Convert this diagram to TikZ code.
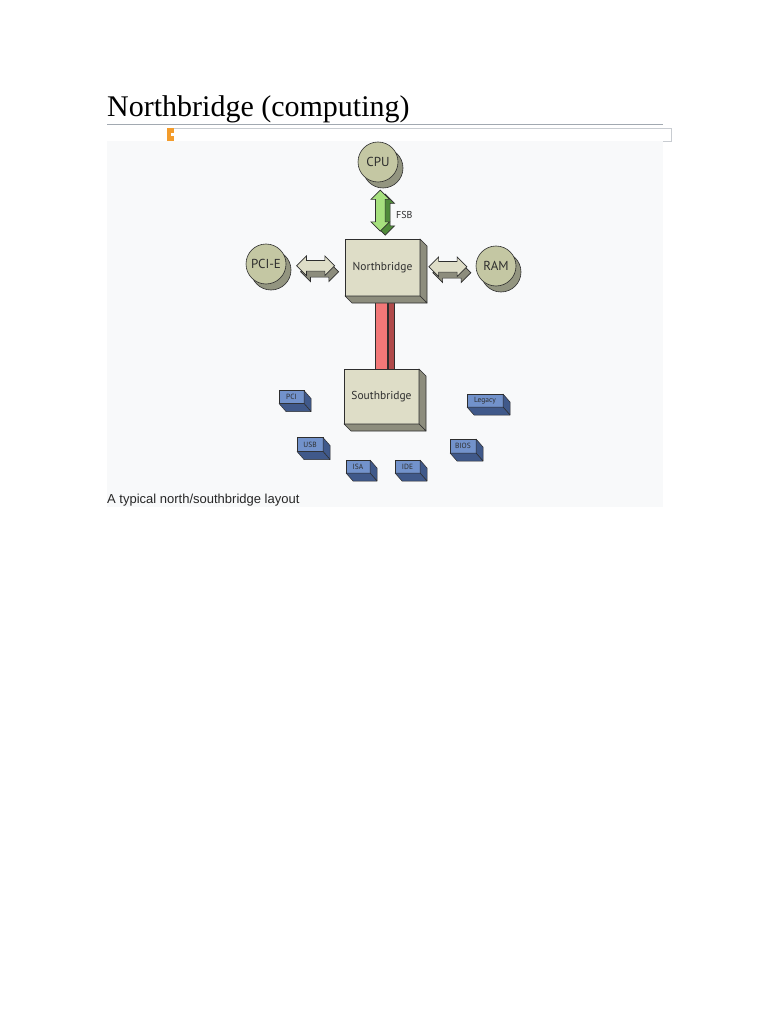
\documentclass[tikz,border=0pt]{standalone}
\usepackage{fontspec}
\setmainfont{Liberation Serif}
\newfontfamily\capfont{Liberation Sans}
\newfontfamily\diagfont{PT Sans}
\usetikzlibrary{calc,shapes.arrows}

\definecolor{pagegrey}{HTML}{F8F9FA}
\definecolor{rulegrey}{HTML}{A2A9B1}
\definecolor{boxgrey}{HTML}{C8CCD1}
\definecolor{tagorange}{HTML}{F39C2C}
\definecolor{chipface}{HTML}{DEDDC7}
\definecolor{chipside}{HTML}{8D8D7D}
\definecolor{discface}{HTML}{C4C7A3}
\definecolor{discside}{HTML}{939580}
\definecolor{busface}{HTML}{A6E07E}
\definecolor{busside}{HTML}{4F8A3A}
\definecolor{linkface}{HTML}{F27878}
\definecolor{linkside}{HTML}{B04A4A}
\definecolor{portface}{HTML}{7292CB}
\definecolor{portside}{HTML}{40598A}
\definecolor{inkgrey}{HTML}{2E2E2E}

\tikzset{
  chip/.style = {draw=inkgrey, fill=chipface, line width=0.6pt, inner sep=0pt, outer sep=0pt,
    minimum width=75pt, text=inkgrey, font=\diagfont\fontsize{11.5}{13}\selectfont},
  sides/.style = {draw=inkgrey, line width=0.6pt, line join=round},
  disc/.style = {circle, draw=inkgrey, fill=discface, line width=0.6pt, inner sep=0pt,
    minimum size=40pt, text=inkgrey, font=\diagfont\fontsize{13}{15}\selectfont},
  port/.style = {draw=inkgrey, fill=portface, line width=0.5pt, inner sep=0pt, outer sep=0pt,
    minimum height=13pt, text=inkgrey, font=\diagfont\fontsize{7.5}{8}\selectfont},
  dblarrow/.style = {double arrow, draw=inkgrey, line width=0.6pt, inner sep=5pt,
    double arrow head extend=4.5pt, minimum height=38pt, minimum width=19pt},
}

\begin{document}
\begin{tikzpicture}[x=1pt,y=-1pt]

\useasboundingbox (0,0) rectangle (768,1024) ;
\fill[white] (0,0) rectangle (768,1024) ;

% page header
\node[anchor=base west, inner sep=0pt, font=\fontsize{30}{34}\selectfont] (title) at (107,117) {Northbridge (computing)} ;
\draw[rulegrey, line width=0.8pt] (107,124) -- (663,124) ;
\draw[boxgrey, fill=white, line width=0.8pt] (167,128) rectangle (671,141) ;
\fill[tagorange] (167,128) rectangle (174,141) ;
\fill[white] (171,133) rectangle (174.5,136) ;
\fill[pagegrey] (107,141.5) rectangle (663,507) ;

% discs with their shadow
\fill[discside] (383,168) circle (20) ; \draw[inkgrey, line width=0.6pt] (383,168) circle (20) ;
\fill[discside] (271,270) circle (20) ; \draw[inkgrey, line width=0.6pt] (271,270) circle (20) ;
\fill[discside] (501,272) circle (20) ; \draw[inkgrey, line width=0.6pt] (501,272) circle (20) ;
\node[disc] (cpu) at (378,162) {CPU} ;
\node[disc] (pcie) at (266,264) {PCI-E} ;
\node[disc] (ram) at (496,266) {RAM} ;

% bridges
\node[chip, minimum height=57pt] (nb) at (382.5,267.5) {Northbridge} ;
\node[chip, minimum height=55pt] (sb) at (381.5,396.5) {Southbridge} ;

% link between the bridges
\draw[sides, fill=linkface] ($(nb.south)+(-7,0)$) rectangle ($(sb.north)+(6,0)$) ;
\draw[sides, fill=linkside] ($(nb.south)+(6,0)$) rectangle ($(sb.north)+(13,0)$) ;

\foreach \c in {nb,sb} {
  \draw[sides, fill=chipside] (\c.north east) -- ++(7,7) -- ($(\c.south east)+(7,7)$) -- (\c.south east) -- cycle ;
  \draw[sides, fill=chipside] (\c.south west) -- ++(7,7) -- ($(\c.south east)+(7,7)$) -- (\c.south east) -- cycle ;
}

% buses
\coordinate (fsb c) at ($(cpu.south)!0.5!(nb.north)$) ;
\coordinate (pcie c) at ($(pcie.east)!0.5!(nb.west)$) ;
\coordinate (ram c) at ($(nb.east)!0.5!(ram.west)$) ;

\node[dblarrow, rotate=90, fill=busside, minimum height=41pt, minimum width=17pt, inner sep=4.5pt] at ($(fsb c)+(5,4)$) {} ;
\node[dblarrow, rotate=90, fill=busface, minimum height=41pt, minimum width=17pt, inner sep=4.5pt] (fsb) at (fsb c) {} ;
\node[dblarrow, fill=chipside] at ($(pcie c)+(4,6)$) {} ;
\node[dblarrow, fill=chipface] (pcielink) at (pcie c) {} ;
\node[dblarrow, fill=chipside] at ($(ram c)+(4,6)$) {} ;
\node[dblarrow, fill=chipface] (ramlink) at (ram c) {} ;

\node[anchor=west, inner sep=0pt, text=inkgrey, font=\diagfont\fontsize{10}{11}\selectfont] (fsblabel) at (396,215) {FSB} ;

% southbridge ports
\node[port, minimum width=25pt] (pci) at (291.5,397) {PCI} ;
\node[port, minimum width=36pt] (legacy) at (485,400.5) {Legacy} ;
\node[port, minimum width=26pt, minimum height=14pt] (usb) at (310,444.5) {USB} ;
\node[port, minimum width=26pt, minimum height=14pt] (bios) at (463,446) {BIOS} ;
\node[port, minimum width=24pt] (isa) at (358,466.5) {ISA} ;
\node[port, minimum width=25pt] (ide) at (407.5,466.5) {IDE} ;

\foreach \p in {pci,legacy,usb,bios,isa,ide} {
  \draw[sides, fill=portside, line width=0.5pt] (\p.north east) -- ++(7,8) -- ($(\p.south east)+(7,8)$) -- (\p.south east) -- cycle ;
  \draw[sides, fill=portside, line width=0.5pt] (\p.south west) -- ++(7,8) -- ($(\p.south east)+(7,8)$) -- (\p.south east) -- cycle ;
}

% caption
\node[anchor=base west, inner sep=0pt, text=black!85, font=\capfont\fontsize{13}{15}\selectfont] (caption) at (107,503) {A typical north/southbridge layout} ;

\end{tikzpicture}
\end{document}
